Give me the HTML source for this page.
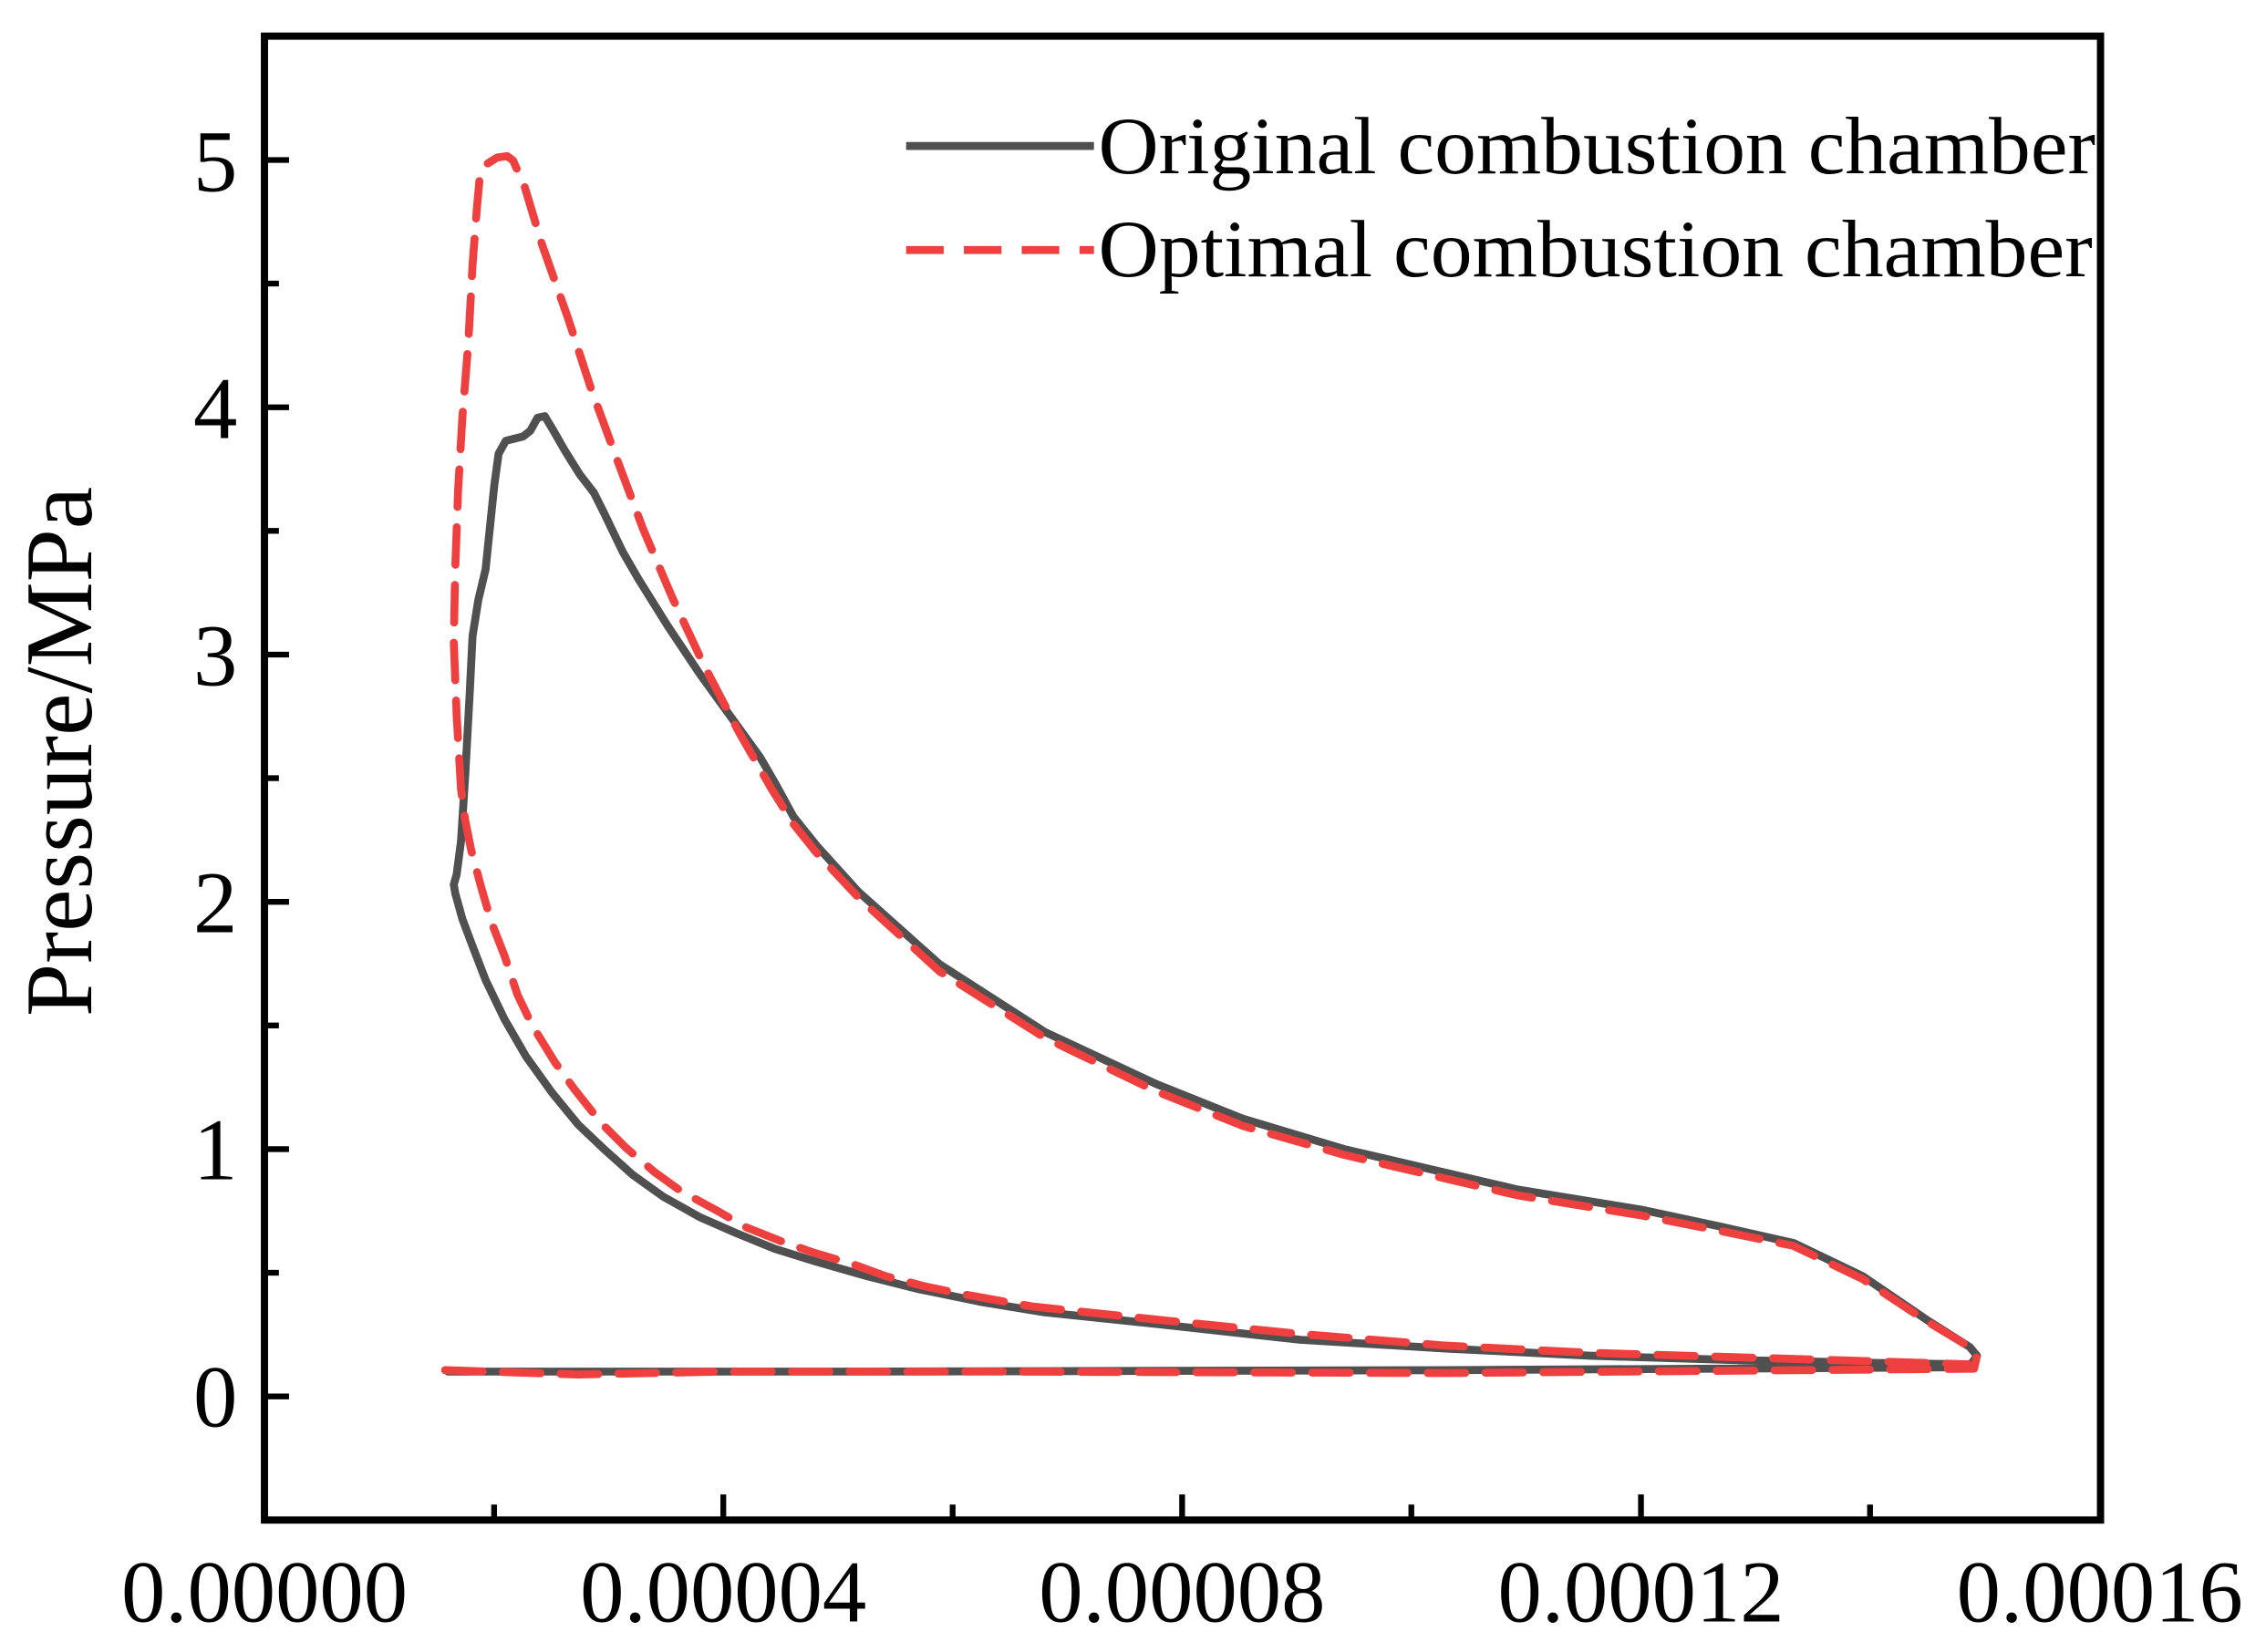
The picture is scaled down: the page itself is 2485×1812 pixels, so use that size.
<!DOCTYPE html>
<html><head><meta charset="utf-8"><style>
html,body{margin:0;padding:0;background:#fff;}
svg{display:block;}
text{font-family:"Liberation Serif","Times New Roman",serif;fill:#000;}
</style></head><body>
<svg width="2485" height="1812" viewBox="0 0 1568 1143" preserveAspectRatio="none" xmlns="http://www.w3.org/2000/svg">
<rect x="0" y="0" width="1568" height="1143" fill="#fff"/>
<g fill="none" stroke-linejoin="round" stroke-linecap="round">
<path stroke="#505050" stroke-width="5.5" d="M310,949 L600,949 L1000,948 L1362,946 L1366,941 L1368,938 L1363,932 L1333,913 L1289,883 L1241,860 L1192,849 L1136,837 L1050,823 L930,795 L860,774 L800,750 L723,714 L650,667 L594,617 L565,585 L549,565 L537,543 L526,524 L505,495 L484,466 L462,433 L442,401 L431,382 L418,355 L411,341 L401,328 L391,312 L383,298 L377,288 L372,289 L367,298 L362,302 L350,305 L345,314 L342,336 L339,365 L336,394 L331,415 L327,440 L325,480 L322,535 L319,582 L316,605 L314,612 L315,618 L320,636 L326,652 L336,678 L349,705 L364,731 L382,756 L400,778 L419,796 L438,813 L459,828 L484,842 L509,853 L536,864 L565,873 L600,883 L636,892 L680,901 L723,908 L800,916 L900,927 L1000,933 L1100,938 L1200,941 L1300,943 L1362,944"/>
<path stroke="#ef4040" stroke-width="5.5" stroke-dasharray="26,14" d="M308,948 L400,951 L500,949 L700,949 L1000,950 L1366,947 L1368,938 L1363,932 L1333,914 L1289,885 L1241,862 L1192,852 L1136,841 L1050,827 L930,799 L860,779 L800,755 L723,718 L650,672 L594,621 L565,590 L549,570 L534,546 L511,506 L487,460 L465,413 L445,366 L427,318 L409,269 L393,220 L375,169 L363,129 L355,111 L351,108 L344,109 L336,114 L332,122 L330,144 L327,183 L324,238 L320,288 L317,339 L315,394 L314,444 L316,495 L319,546 L322,568 L326,588 L333,614 L340,638 L349,661 L358,688 L368,709 L384,735 L397,753 L416,777 L433,794 L453,811 L471,824 L495,837 L516,849 L541,859 L564,867 L591,875 L613,883 L640,890 L664,895 L692,900 L715,904 L800,913 L900,923 L1000,931 L1100,936 L1200,939 L1300,942 L1362,944"/>
</g>
<rect x="183" y="25" width="1270.5" height="1026.7" fill="none" stroke="#000" stroke-width="5"/>
<g stroke="#000" stroke-width="4">
<line x1="183" y1="966.2" x2="200" y2="966.2"/>
<line x1="183" y1="795.1" x2="200" y2="795.1"/>
<line x1="183" y1="624" x2="200" y2="624"/>
<line x1="183" y1="452.9" x2="200" y2="452.9"/>
<line x1="183" y1="281.8" x2="200" y2="281.8"/>
<line x1="183" y1="110.7" x2="200" y2="110.7"/>
<line x1="183" y1="880.6" x2="193" y2="880.6"/>
<line x1="183" y1="709.5" x2="193" y2="709.5"/>
<line x1="183" y1="538.4" x2="193" y2="538.4"/>
<line x1="183" y1="367.3" x2="193" y2="367.3"/>
<line x1="183" y1="196.2" x2="193" y2="196.2"/>
<line x1="500.5" y1="1051.7" x2="500.5" y2="1034"/>
<line x1="818" y1="1051.7" x2="818" y2="1034"/>
<line x1="1135.5" y1="1051.7" x2="1135.5" y2="1034"/>
<line x1="341.9" y1="1051.7" x2="341.9" y2="1041"/>
<line x1="659.2" y1="1051.7" x2="659.2" y2="1041"/>
<line x1="976.6" y1="1051.7" x2="976.6" y2="1041"/>
<line x1="1294" y1="1051.7" x2="1294" y2="1041"/>
</g>
<g font-size="61" text-anchor="middle">
<text x="149" y="987">0</text>
<text x="149" y="816">1</text>
<text x="149" y="645">2</text>
<text x="149" y="474">3</text>
<text x="149" y="303">4</text>
<text x="149" y="132">5</text>
<text x="183" y="1122">0.00000</text>
<text x="500.5" y="1122">0.00004</text>
<text x="818" y="1122">0.00008</text>
<text x="1135.5" y="1122">0.00012</text>
<text x="1453" y="1122">0.00016</text>
</g>
<text transform="translate(63,520) rotate(-90)" font-size="66" text-anchor="middle">Pressure/MPa</text>
<line x1="627" y1="101" x2="757" y2="101" stroke="#505050" stroke-width="5.5"/>
<line x1="627" y1="173" x2="757" y2="173" stroke="#ef4040" stroke-width="5.5" stroke-dasharray="26,14"/>
<text x="760" y="120" font-size="56" textLength="690" lengthAdjust="spacingAndGlyphs">Original combustion chamber</text>
<text x="760" y="191" font-size="56" textLength="688" lengthAdjust="spacingAndGlyphs">Optimal combustion chamber</text>
</svg>
</body></html>
